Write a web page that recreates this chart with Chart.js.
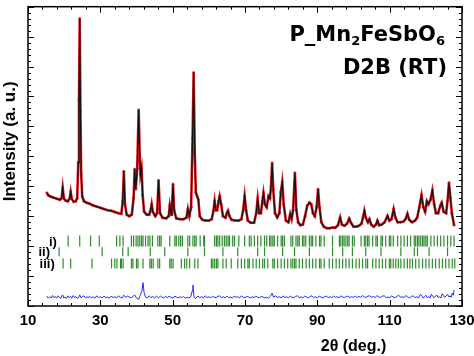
<!DOCTYPE html>
<html><head><meta charset="utf-8">
<script src="https://cdn.jsdelivr.net/npm/chart.js@4/dist/chart.umd.min.js"></script>
<style>html,body{margin:0;padding:0;background:#fff}#wrap{width:474px;height:356px}</style>
</head><body><div id="wrap"><canvas id="c" width="474" height="356"></canvas></div>
<script>
// Observed (red dots) / calculated (black line) profile, [2theta, intensity a.u.]
const observedProfile = [[15.2,3.78],[15.6,3.70],[16.2,3.66],[17.0,3.62],[18.0,3.58],[18.8,3.55],[19.3,3.6],[19.6,3.95],[19.9,3.6],[20.4,3.52],[21.0,3.5],[21.5,3.58],[21.8,3.82],[22.1,3.58],[22.6,3.48],[23.2,3.5],[23.6,3.6],[23.9,4.8],[24.1,6.9],[24.3,9.6],[24.5,6.5],[24.7,4.4],[25.0,3.65],[25.5,3.5],[26.2,3.45],[27.0,3.42],[28.0,3.36],[29.0,3.32],[30.0,3.28],[31.0,3.24],[32.0,3.2],[33.0,3.18],[34.0,3.14],[35.0,3.1],[35.8,3.08],[36.2,3.5],[36.5,4.5],[36.8,3.4],[37.3,3.05],[38.0,3.0],[38.7,3.05],[39.2,3.6],[39.5,4.57],[39.8,3.9],[40.2,4.6],[40.6,6.55],[40.9,5.0],[41.1,4.4],[41.4,4.6],[41.7,3.7],[42.1,3.15],[42.8,3.05],[43.5,3.05],[44.0,3.25],[44.2,3.4],[44.5,3.15],[45.2,3.0],[45.7,3.1],[46.1,4.2],[46.5,3.1],[47.2,2.95],[48.2,2.93],[48.9,3.0],[49.2,3.35],[49.6,3.05],[49.8,3.3],[50.1,4.07],[50.4,3.2],[51.0,2.93],[52.0,2.9],[53.0,2.9],[53.8,2.95],[54.2,3.24],[54.6,3.0],[55.1,3.3],[55.5,5.6],[55.8,7.8],[56.1,5.2],[56.4,3.8],[56.8,3.65],[57.1,3.55],[57.5,3.0],[58.2,2.88],[59.0,2.86],[60.0,2.85],[60.8,2.9],[61.3,3.2],[61.6,3.5],[61.9,3.2],[62.3,3.2],[62.7,3.5],[63.0,3.67],[63.4,3.4],[63.9,3.0],[64.6,2.95],[65.0,3.1],[65.3,3.18],[65.7,3.0],[66.3,2.88],[67.2,2.86],[68.2,2.85],[69.0,2.9],[69.5,3.2],[69.9,3.67],[70.3,3.2],[70.8,2.85],[71.6,2.78],[72.5,2.78],[73.1,3.1],[73.5,3.58],[73.9,3.1],[74.4,3.1],[74.8,3.5],[75.1,3.78],[75.5,3.4],[76.0,3.3],[76.5,3.67],[76.9,3.6],[77.2,4.0],[77.5,4.78],[77.8,3.9],[78.3,3.1],[78.9,2.96],[79.5,3.1],[79.9,3.8],[80.3,4.14],[80.7,3.4],[81.3,2.85],[82.0,2.8],[82.5,3.08],[82.9,2.9],[83.3,3.2],[83.8,4.45],[84.2,3.2],[84.7,2.8],[85.3,2.7],[86.0,2.72],[86.6,3.0],[87.2,3.35],[87.8,3.45],[88.3,3.4],[88.8,3.1],[89.3,3.0],[89.8,3.3],[90.2,3.9],[90.6,3.3],[91.1,2.8],[91.8,2.65],[92.6,2.6],[93.4,2.6],[94.2,2.62],[95.0,2.62],[95.7,2.7],[96.3,2.96],[96.8,2.72],[97.5,2.68],[98.2,2.75],[98.8,2.92],[99.3,2.78],[100.0,2.65],[100.8,2.65],[101.5,2.68],[102.2,2.75],[102.7,3.0],[103.0,3.18],[103.4,2.95],[104.0,2.8],[104.4,2.9],[104.9,2.72],[105.6,2.65],[106.2,2.72],[106.6,2.85],[107.1,2.7],[107.8,2.72],[108.6,2.8],[109.4,3.01],[109.9,2.85],[110.5,2.9],[111.1,3.24],[111.6,2.95],[112.2,2.8],[113.0,2.8],[113.8,2.82],[114.4,2.9],[114.9,3.08],[115.4,2.88],[116.2,2.8],[117.0,2.85],[117.6,2.95],[118.2,3.3],[118.8,3.7],[119.3,3.3],[119.8,3.15],[120.3,3.5],[120.7,3.4],[121.3,3.55],[121.8,3.86],[122.3,3.4],[122.8,3.1],[123.4,3.1],[124.0,3.35],[124.4,3.45],[124.9,3.15],[125.6,3.1],[126.0,3.5],[126.4,4.12],[126.8,3.6],[127.2,3.1],[127.8,2.7]];
// Calculated profile coincides with the observed one at this resolution
const calculatedProfile = observedProfile;
// Difference curve (obs - calc, offset)
const differenceProfile = [[15.2,0.33],[15.6,0.26],[16,0.31],[16.4,0.27],[16.8,0.35],[17.2,0.28],[17.5,0.32],[17.9,0.26],[18.3,0.34],[18.7,0.29],[19,0.25],[19.3,0.33],[19.6,0.37],[19.9,0.27],[20.2,0.3],[20.6,0.25],[21,0.34],[21.4,0.28],[21.8,0.32],[22.1,0.26],[22.5,0.35],[22.9,0.28],[23.2,0.31],[23.6,0.26],[24,0.28],[24.3,0.37],[24.7,0.27],[25.1,0.32],[25.5,0.34],[25.9,0.27],[26.3,0.31],[26.7,0.28],[27,0.33],[27.5,0.27],[28,0.31],[28.5,0.26],[29,0.34],[29.5,0.28],[30,0.31],[30.5,0.27],[31,0.33],[31.5,0.28],[32,0.3],[32.5,0.26],[33,0.33],[33.5,0.28],[34,0.31],[34.5,0.27],[35,0.34],[35.5,0.29],[36,0.27],[36.5,0.36],[37,0.29],[37.5,0.33],[38,0.3],[38.5,0.27],[39,0.32],[39.5,0.37],[40,0.27],[40.6,0.22],[41.0,0.35],[41.5,0.5],[41.8,0.78],[42.1,0.45],[42.5,0.3],[43,0.27],[43.5,0.34],[44,0.28],[44.5,0.32],[45,0.27],[45.5,0.33],[46.1,0.27],[46.6,0.33],[47,0.3],[47.5,0.27],[48,0.32],[48.5,0.28],[49,0.33],[49.5,0.29],[50.1,0.26],[50.6,0.33],[51,0.3],[51.5,0.27],[52,0.31],[52.5,0.28],[53,0.32],[53.5,0.26],[54,0.29],[54.5,0.27],[55,0.31],[55.4,0.5],[55.6,0.7],[55.9,0.3],[56.3,0.25],[56.7,0.3],[57,0.33],[57.5,0.28],[58,0.31],[58.5,0.27],[59,0.34],[59.5,0.28],[60,0.31],[60.5,0.27],[61,0.33],[61.5,0.29],[62,0.28],[62.5,0.32],[63,0.34],[63.5,0.28],[64,0.31],[64.5,0.27],[65,0.33],[65.5,0.28],[66,0.3],[66.5,0.27],[67,0.33],[67.5,0.29],[68,0.31],[68.5,0.27],[69,0.34],[69.5,0.29],[70,0.28],[70.5,0.32],[71,0.3],[71.5,0.27],[72,0.31],[72.5,0.28],[73,0.33],[73.5,0.29],[74,0.28],[74.5,0.32],[75,0.3],[75.5,0.27],[76,0.29],[76.5,0.26],[77,0.32],[77.5,0.43],[77.9,0.3],[78.5,0.34],[79,0.28],[79.5,0.31],[80,0.27],[80.5,0.34],[81,0.28],[81.5,0.31],[82,0.27],[82.5,0.33],[83,0.29],[83.5,0.28],[84,0.32],[84.5,0.34],[85,0.28],[85.5,0.31],[86,0.27],[86.5,0.33],[87,0.3],[87.5,0.27],[88,0.32],[88.5,0.34],[89,0.28],[89.5,0.31],[90,0.27],[90.5,0.33],[91,0.3],[91.5,0.27],[92,0.31],[92.5,0.33],[93,0.28],[93.5,0.31],[94,0.28],[94.5,0.33],[95,0.29],[95.5,0.31],[96,0.27],[96.5,0.34],[97,0.3],[97.5,0.28],[98,0.32],[98.5,0.33],[99,0.28],[99.5,0.31],[100,0.29],[100.5,0.33],[101,0.28],[101.5,0.32],[102,0.29],[102.5,0.35],[103,0.3],[103.5,0.29],[104,0.33],[104.5,0.34],[105,0.29],[105.5,0.32],[106,0.28],[106.5,0.35],[107,0.3],[107.5,0.29],[108,0.33],[108.5,0.34],[109,0.28],[109.5,0.3],[110,0.27],[110.5,0.34],[111,0.3],[111.5,0.27],[112,0.32],[112.5,0.36],[113,0.29],[113.5,0.31],[114,0.28],[114.5,0.35],[115,0.3],[115.5,0.27],[116,0.32],[116.5,0.34],[117,0.28],[117.5,0.31],[118,0.27],[118.5,0.39],[119,0.33],[119.3,0.26],[119.7,0.32],[120,0.36],[120.4,0.28],[120.8,0.31],[121.2,0.27],[121.5,0.39],[121.9,0.33],[122.2,0.28],[122.6,0.31],[123,0.37],[123.4,0.28],[123.8,0.31],[124.2,0.27],[124.5,0.41],[124.9,0.34],[125.2,0.29],[125.6,0.33],[126,0.39],[126.4,0.3],[126.7,0.34],[127,0.29],[127.3,0.43],[127.6,0.36],[127.8,0.53]];
// Bragg reflection positions (2theta) for the three phases
const braggPhase1 = [21.1,24.3,27.3,29.7,34.5,35.4,36.3,38.6,39.2,39.9,40.4,40.9,41.4,41.8,42.5,43.2,43.7,44.4,45.9,46.4,46.8,49.2,50.6,51.0,51.7,52.2,52.7,54.2,54.7,55.6,56.1,56.5,57.6,58.6,58.8,61.6,62.1,62.5,63.0,63.7,64.3,64.8,65.3,65.7,66.6,67.1,68.3,69.9,71.2,71.7,72.6,73.5,74.4,75.4,76.0,76.8,77.2,77.7,78.1,79.0,80.0,80.4,80.9,82.7,83.2,84.1,84.6,85.0,85.9,86.3,86.8,87.8,88.3,88.7,89.6,90.6,91.0,91.9,94.2,96.1,96.5,97.0,97.4,97.9,98.4,98.8,99.7,100.2,102.1,103.0,103.4,103.9,104.3,105.3,106.2,106.6,107.6,108.0,108.9,109.9,110.3,111.0,112.2,113.1,114.0,114.9,115.8,116.8,117.2,117.7,118.1,118.6,119.1,119.5,120.0,120.4,121.4,122.3,123.2,124.1,125.0,126.0,126.9,127.8];
const braggPhase2 = [18.6,30.5,36.2,37.7,43.8,47.8,54.2,58.8,63.9,68.0,73.5,75.4,80.4,83.7,87.8,94.2,97.0,99.7,103.4,107.6,113.1,116.8,117.7,120.9,126.0];
const braggPhase3 = [19.7,21.8,27.7,33.1,34.0,34.6,35.6,35.8,36.3,38.6,39.0,40.0,40.4,41.8,43.7,44.1,44.6,45.9,46.4,49.2,49.6,50.1,52.4,53.3,53.9,54.7,56.1,57.0,60.7,61.1,61.6,62.1,62.5,63.9,64.8,66.2,68.0,69.0,69.9,70.8,71.2,72.2,73.1,74.0,74.9,75.4,76.3,77.7,78.1,79.0,80.0,80.9,81.8,82.7,83.2,83.7,84.1,85.0,85.9,86.9,87.8,88.7,89.6,90.6,91.0,91.9,93.3,94.2,95.2,96.1,97.0,97.9,98.8,99.7,100.7,101.6,102.5,103.4,103.9,105.3,106.2,107.1,108.0,108.9,109.9,110.3,111.0,111.7,112.4,113.1,114.0,114.9,115.6,116.3,117.2,118.1,119.1,120.0,120.9,121.8,122.7,123.7,124.6,125.5,126.4,127.3,128.0];
const phaseLabels = ['i)','ii)','iii)'];
const xTickLabels = ['10','30','50','70','90','110','130'];
const titleLines = [['P_Mn','2','FeSbO','6'],['D2B (RT)']];
const xAxisTitle = '2\u03b8 (deg.)';
const yAxisTitle = 'Intensity (a. u.)';

// style / layout
const rowLevel = [2.17, 1.81, 1.42];
const rowHalf = [5.5, 4.5, 5];
const toXY = a => a.map(p => ({x:p[0], y:p[1]}));
const braggData = (arr, lvl) => arr.map(v => ({x:v, y:lvl}));
const greenTick = 'rgba(10,120,10,0.85)';

const decor = {
  id:'decor',
  afterDraw(chart){
    const {ctx, chartArea:a, scales:{x, y}} = chart;
    ctx.save();
    ctx.strokeStyle = '#000'; ctx.lineWidth = 1.5;
    ctx.strokeRect(a.left, a.top, a.right - a.left, a.bottom - a.top);
    ctx.lineWidth = 1;
    ctx.beginPath();
    for (let v = 10; v <= 130.001; v += 4) {
      const px = Math.round(x.getPixelForValue(v)) + 0.5;
      const major = Math.abs(((v - 10) % 20)) < 0.01;
      const L = major ? 6 : 3;
      ctx.moveTo(px, a.bottom); ctx.lineTo(px, a.bottom - L);
      ctx.moveTo(px, a.top); ctx.lineTo(px, a.top + L);
    }
    for (let i = 0; i <= 50; i++) {
      const v = i * 0.2;
      const py = Math.round(y.getPixelForValue(v)) + 0.5;
      const L = (i % 5 === 0) ? 6 : 3;
      ctx.moveTo(a.left, py); ctx.lineTo(a.left + L, py);
      ctx.moveTo(a.right, py); ctx.lineTo(a.right - L, py);
    }
    ctx.stroke();
    ctx.fillStyle = '#000';
    ctx.font = 'bold 15px "Liberation Sans", Arial, sans-serif';
    ctx.textAlign = 'center'; ctx.textBaseline = 'middle';
    xTickLabels.forEach(t => ctx.fillText(t, x.getPixelForValue(+t), a.bottom + 15));
    ctx.font = 'bold 16px "Liberation Sans", Arial, sans-serif';
    ctx.fillText(xAxisTitle, x.getPixelForValue(100), a.bottom + 41);
    ctx.save();
    ctx.translate(10, y.getPixelForValue(5.5));
    ctx.rotate(-Math.PI/2);
    ctx.font = 'bold 17px "Liberation Sans", Arial, sans-serif';
    ctx.fillText(yAxisTitle, 0, 0);
    ctx.restore();
    ctx.font = 'bold 13px "Liberation Sans", Arial, sans-serif';
    ctx.textAlign = 'right';
    const labX = [18.0, 16.1, 17.4];
    phaseLabels.forEach((t, i) => ctx.fillText(t, x.getPixelForValue(labX[i]), y.getPixelForValue(rowLevel[i]) + 1));
    ctx.textAlign = 'left'; ctx.textBaseline = 'alphabetic';
    const big = 'bold 21px "DejaVu Sans", sans-serif', small = 'bold 13px "DejaVu Sans", sans-serif';
    const rightX = [445, 447], baseY = [41, 74];
    titleLines.forEach((parts, li) => {
      let w = 0;
      parts.forEach((p, k) => { ctx.font = (k % 2) ? small : big; w += ctx.measureText(p).width; });
      let cx = rightX[li] - w;
      parts.forEach((p, k) => {
        ctx.font = (k % 2) ? small : big;
        ctx.fillText(p, cx, baseY[li] + ((k % 2) ? 4 : 0));
        cx += ctx.measureText(p).width;
      });
    });
    ctx.restore();
  }
};

new Chart(document.getElementById('c'), {
  type: 'scatter',
  data: { datasets: [
    { order: 3, data: toXY(observedProfile), showLine: true, borderColor: '#e0191f', borderWidth: 2.6, pointRadius: 1.4, pointBackgroundColor: '#e0191f', pointBorderWidth: 0 },
    { order: 1, data: toXY(calculatedProfile), showLine: true, borderColor: '#111', borderWidth: 1.2, pointRadius: 0 },
    { order: 2, data: toXY(differenceProfile), showLine: true, borderColor: '#1f2bff', borderWidth: 1, pointRadius: 0 },
    { order: 2, data: braggData(braggPhase1, rowLevel[0]), pointStyle: 'line', rotation: 90, pointRadius: rowHalf[0], pointBorderColor: greenTick, pointBorderWidth: 1.2 },
    { order: 2, data: braggData(braggPhase2, rowLevel[1]), pointStyle: 'line', rotation: 90, pointRadius: rowHalf[1], pointBorderColor: greenTick, pointBorderWidth: 1.2 },
    { order: 2, data: braggData(braggPhase3, rowLevel[2]), pointStyle: 'line', rotation: 90, pointRadius: rowHalf[2], pointBorderColor: greenTick, pointBorderWidth: 1.2 }
  ]},
  options: {
    responsive: false, animation: false, events: [],
    layout: { padding: { left: 28, right: 12, top: 4, bottom: 50 } },
    plugins: { legend: { display: false }, tooltip: { enabled: false } },
    scales: {
      x: { type: 'linear', min: 10, max: 130, display: false },
      y: { type: 'linear', min: 0, max: 10, display: false }
    }
  },
  plugins: [decor]
});
</script>
</body></html>
